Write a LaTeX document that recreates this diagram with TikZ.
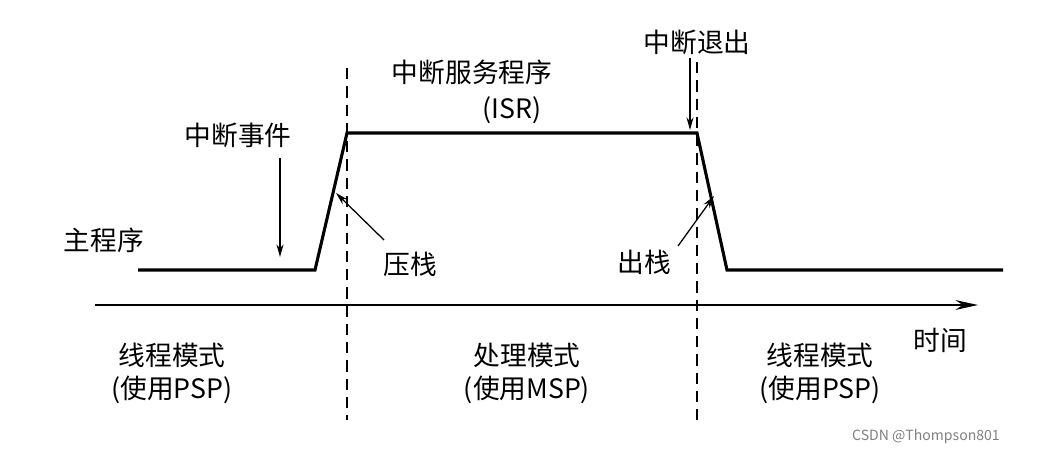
\documentclass[tikz,border=0pt]{standalone}
\usepackage{fontspec}
\setmainfont{Noto Sans CJK SC}
\usetikzlibrary{arrows.meta}
\begin{document}
\begin{tikzpicture}[x=0.025cm,y=-0.025cm,
  lbl/.style={inner sep=0pt,font=\fontsize{19}{22}\selectfont},
  arr/.style={-{Stealth[length=9pt,width=5pt]},line width=0.9pt},
  dashln/.style={line width=0.8pt,dash pattern=on 8pt off 5pt}]
\useasboundingbox (0,0) rectangle (1038,455);
\coordinate (s0) at (138,270); \coordinate (s1) at (315,270);
\coordinate (s2) at (347,133); \coordinate (s3) at (697,133);
\coordinate (s4) at (727,270); \coordinate (s5) at (1003,270);
\draw[line width=2.2pt,line join=miter] (s0)--(s1)--(s2)--(s3)--(s4)--(s5);
\coordinate (a0) at (95,305); \coordinate (a1) at (978,305);
\draw[-{Stealth[length=16pt,width=7pt]},line width=1pt] (a0)--(a1);
\coordinate (d1a) at (347,68); \coordinate (d1b) at (347,420);
\coordinate (d2a) at (697,62); \coordinate (d2b) at (697,420);
\draw[dashln] (d1a)--(d1b); \draw[dashln] (d2a)--(d2b);
\node[lbl] (main) at (104,240) {主程序};
\node[lbl] (evt) at (238,135) {中断事件};
\coordinate (evte) at (280,257);
\draw[arr] (280,158)--(evte);
\node[lbl] (push) at (410,264) {压栈};
\coordinate (pushe) at (336,193);
\draw[arr] (384,240)--(pushe);
\node[lbl] (isr1) at (472,72) {中断服务程序};
\node[lbl] (isr2) at (512,110) {(ISR)};
\node[lbl] (exit) at (697,42) {中断退出};
\coordinate (exite) at (690,130);
\draw[arr] (690,58)--(exite);
\node[lbl] (pop) at (644,262) {出栈};
\coordinate (pope) at (714,196);
\draw[arr] (678,246)--(pope);
\node[lbl] (t1) at (172,355) {线程模式};
\node[lbl] (t1b) at (172,390) {(使用PSP)};
\node[lbl] (h1) at (527,355) {处理模式};
\node[lbl] (h1b) at (527,390) {(使用MSP)};
\node[lbl] (t2) at (820,355) {线程模式};
\node[lbl] (t2b) at (820,390) {(使用PSP)};
\node[lbl] (time) at (940,340) {时间};
\node[inner sep=0pt,font=\fontsize{10}{12}\selectfont,text=gray] (wm) at (926,437) {CSDN @Thompson801};
\end{tikzpicture}
\end{document}
